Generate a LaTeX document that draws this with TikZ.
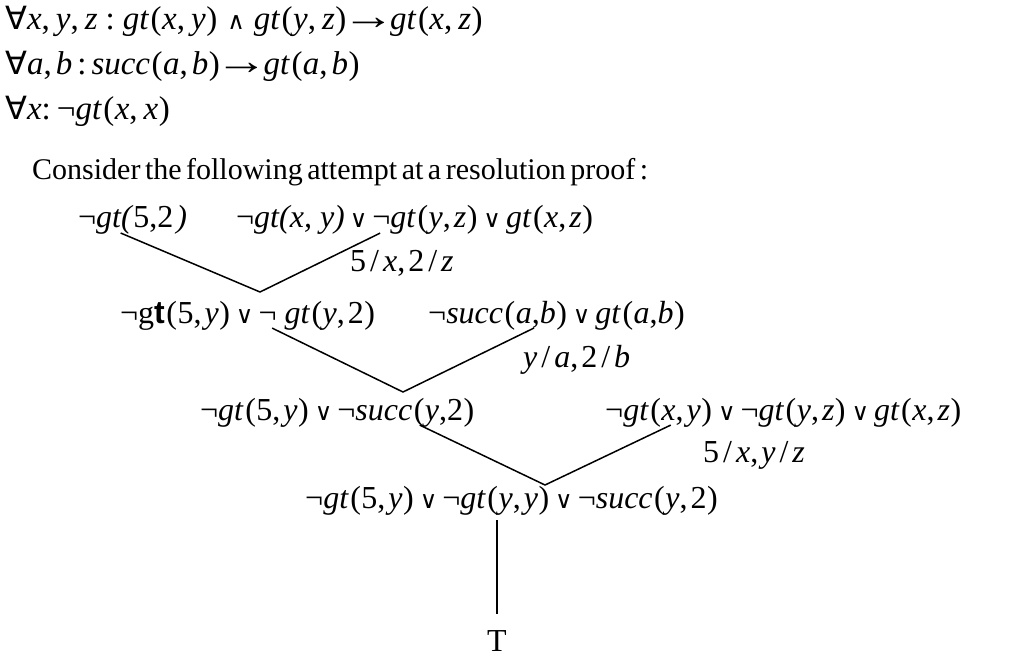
\documentclass[tikz,border=0pt]{standalone}
\usepackage{fontspec}
\usepackage{graphicx}
\setmainfont{Liberation Serif}
\newfontfamily\symf{DejaVu Sans}
\newfontfamily\boldsf{Liberation Sans}
\usepackage{tikz}
\usetikzlibrary{positioning}
\newcommand{\iv}[1]{\textit{#1}}
\newcommand{\pa}[1]{\kern1.5pt(\kern0.5pt#1\kern0.5pt)\kern1pt}
\newcommand{\cm}{,\kern3pt}
\newcommand{\slh}{\kern4pt/\kern4pt}
\newcommand{\vneg}{¬}
\newcommand{\vall}{{\symf\fontsize{32}{32}\selectfont ∀}}
\newcommand{\vor}{\kern5pt{\symf\fontsize{24}{24}\selectfont ∨}\kern5pt}
\newcommand{\vand}{\kern9pt{\symf\fontsize{24}{24}\selectfont ∧}\kern9pt}
\newcommand{\vimp}{\kern-5pt\scalebox{1.6}[1.2]{→}\kern-5pt}
\newcommand{\tightsp}{\spaceskip 0.15em\relax}

\begin{document}
\begin{tikzpicture}[x=1pt, y=-1pt,
    txt/.style={inner sep=0pt, anchor=base west, font=\fontsize{32}{36}\selectfont},
    axiom/.style={inner sep=0pt, anchor=base west, font=\fontsize{33}{36}\selectfont},
    sub/.style={txt},
    prose/.style={inner sep=0pt, anchor=base west, font=\fontsize{30}{36}\selectfont\tightsp},
    edge/.style={line width=1.5pt}
]
\useasboundingbox (0,0) rectangle (1020,663);

% axioms
\node[axiom] (ax1) at (5,30) {\vall\iv{x},\kern6pt\iv{y},\kern6pt\iv{z}\kern8pt:\kern8pt\iv{gt}\pa{\iv{x},\kern6pt\iv{y}}\vand\iv{gt}\pa{\iv{y},\kern6pt\iv{z}}\vimp\iv{gt}\pa{\iv{x},\kern6pt\iv{z}}};
\node[axiom] (ax2) at (5,75) {\vall\iv{a},\kern4pt\iv{b}\kern5pt:\kern5pt\iv{succ}\pa{\iv{a},\kern4pt\iv{b}}\vimp\iv{gt}\pa{\iv{a},\kern4pt\iv{b}}};
\node[axiom] (ax3) at (5,120) {\vall\iv{x}:\kern6pt\vneg\iv{gt}\pa{\iv{x},\kern6pt\iv{x}}};
\node[prose] (intro) at (32,180) {Consider the following attempt at a resolution proof :};

% resolution tree
\node[txt] (c1) at (78,228) {\vneg\iv{gt(}5,2\kern3pt\iv{)}};
\node[txt] (c2) at (236,228) {\vneg\iv{gt(x, y)}\vor\vneg\iv{gt}\pa{\iv{y}\cm\iv{z}}\vor\iv{gt}\pa{\iv{x}\cm\iv{z}}};
\node[sub] (s1) at (350,272) {5\slh\iv{x}\cm2\slh\iv{z}};
\node[txt] (c3) at (120,323) {\vneg g{\boldsf\bfseries t}\pa{5\cm\iv{y}}\vor\vneg\ \iv{gt}\pa{\iv{y}\cm2}};
\node[txt] (c4) at (428,323) {\vneg\iv{succ}\pa{\iv{a},\iv{b}}\vor\iv{gt}\pa{\iv{a},\iv{b}}};
\node[sub] (s2) at (523,367) {\iv{y}\slh\iv{a}\cm2\slh\iv{b}};
\node[txt] (c5) at (200,420) {\vneg\iv{gt}\pa{5\cm\iv{y}}\vor\vneg\iv{succ}\pa{\iv{y},2}};
\node[txt] (c6) at (605,420) {\vneg\iv{gt}\pa{\iv{x}\cm\iv{y}}\vor\vneg\iv{gt}\pa{\iv{y}\cm\iv{z}}\vor\iv{gt}\pa{\iv{x}\cm\iv{z}}};
\node[sub] (s3) at (703,462) {5\slh\iv{x}\cm\iv{y}\slh\iv{z}};
\node[txt] (c7) at (305,508) {\vneg\iv{gt}\pa{5\cm\iv{y}}\vor\vneg\iv{gt}\pa{\iv{y}\cm\iv{y}}\vor\vneg\iv{succ}\pa{\iv{y}\cm2}};
\node[txt, anchor=base] (top) at (497,651) {T};

\coordinate (j1) at (260,292);
\coordinate (j2) at (403,392);
\coordinate (j3) at (545,485);

\draw[edge] ([xshift=-12pt, yshift=2pt]c1.south) -- (j1) -- ([xshift=-35pt, yshift=2pt]c2.south);
\draw[edge] ([xshift=24pt, yshift=2pt]c3.south) -- (j2) -- ([xshift=-23pt, yshift=2pt]c4.south);
\draw[edge] ([xshift=82pt, yshift=2pt]c5.south) -- (j3) -- ([xshift=-113pt, yshift=2pt]c6.south);
\draw[edge] ([yshift=-5pt]c7.south -| top.north) -- ([yshift=16pt]top.north);

\end{tikzpicture}
\end{document}
